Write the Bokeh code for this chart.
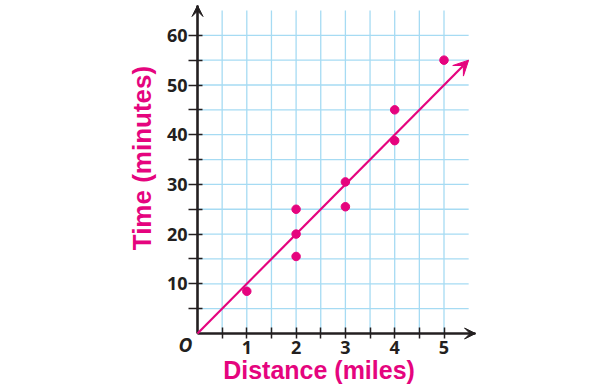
import math
from bokeh.plotting import figure
from bokeh.models import (Range1d, FixedTicker, Label, Arrow, VeeHead)
from bokeh.embed import file_html
from bokeh.resources import INLINE

# ---- data ----
dist = [1, 2, 2, 2, 3, 3, 4, 4, 5]
time_min = [8.5, 25, 20, 15.5, 30.5, 25.5, 45, 38.8, 55]
trend_x = [0, 5.5]
trend_y = [0, 55]

x_ticks = [1, 2, 3, 4, 5]
x_minor = [0.5, 1.5, 2.5, 3.5, 4.5]
y_ticks = [10, 20, 30, 40, 50, 60]
y_minor = [5, 15, 25, 35, 45, 55]
x_tick_labels = ["1", "2", "3", "4", "5"]
y_tick_labels = ["10", "20", "30", "40", "50", "60"]

x_label = "Distance (miles)"
y_label = "Time (minutes)"
origin_label = "O"

PINK = "#e5047e"
GRID = "#a6dbf3"
INK = "#231f20"

# ---- layout (view window, in data units) ----
W, H = 606, 392
X0_PX, Y0_PX = 197, 333          # where the origin sits
SX, SY = 49.3, 4.97              # pixels per unit
view_x = (-X0_PX / SX, (W - X0_PX) / SX)
view_y = (-(H - Y0_PX) / SY, Y0_PX / SY)

axis_x_end, axis_y_end = 5.64, 66.0
grid_x_end, grid_y_end = 5.5, 65

p = figure(width=W, height=H, output_backend="svg", toolbar_location=None,
           x_range=Range1d(*view_x), y_range=Range1d(*view_y),
           min_border=0)
p.title.visible = False
p.outline_line_color = None
p.xgrid.visible = False
p.ygrid.visible = False

# grid lines built from the tick arrays
vx = sorted(x_ticks + x_minor)
hy = sorted(y_ticks + y_minor)
p.segment(x0=vx, y0=[0] * len(vx), x1=vx, y1=[grid_y_end] * len(vx),
          line_color=GRID, line_width=1.3)
p.segment(x0=[0] * len(hy), y0=hy, x1=[grid_x_end] * len(hy), y1=hy,
          line_color=GRID, line_width=1.3)

# axes, pinned at the origin
for ax, ticks, minor, labels in ((p.xaxis[0], x_ticks, x_minor, x_tick_labels),
                                 (p.yaxis[0], y_ticks, y_minor, y_tick_labels)):
    ax.ticker = FixedTicker(ticks=ticks, minor_ticks=minor)
    ax.major_label_overrides = {t: l for t, l in zip(ticks, labels)}
    ax.fixed_location = 0
    ax.axis_line_color = INK
    ax.axis_line_width = 2.6
    ax.major_tick_line_color = INK
    ax.minor_tick_line_color = INK
    ax.major_tick_line_width = 1.5
    ax.minor_tick_line_width = 1.5
    ax.major_label_text_font = "Open Sans"
    ax.major_label_text_font_style = "bold"
    ax.major_label_text_font_size = "18px"
    ax.major_label_text_color = INK

p.xaxis.bounds = (0, axis_x_end)
p.yaxis.bounds = (0, axis_y_end)

p.xaxis.major_tick_in = 6
p.xaxis.major_tick_out = 5
p.xaxis.minor_tick_in = 6
p.xaxis.minor_tick_out = 5
p.xaxis.major_label_standoff = 2

p.yaxis.major_tick_in = 5
p.yaxis.major_tick_out = 9
p.yaxis.minor_tick_in = 5
p.yaxis.minor_tick_out = 9
p.yaxis.major_label_standoff = 1

# axis arrowheads
p.add_layout(Arrow(x_start=axis_x_end - 0.2, y_start=0, x_end=axis_x_end, y_end=0,
                   line_color=None,
                   end=VeeHead(size=11, fill_color=INK, line_color=INK)))
p.add_layout(Arrow(x_start=0, y_start=axis_y_end - 2, x_end=0, y_end=axis_y_end,
                   line_color=None,
                   end=VeeHead(size=11, fill_color=INK, line_color=INK)))

# trend line with arrow
p.add_layout(Arrow(x_start=trend_x[0], y_start=trend_y[0],
                   x_end=trend_x[1], y_end=trend_y[1],
                   line_color=PINK, line_width=2.2,
                   end=VeeHead(size=15, fill_color=PINK, line_color=PINK)))

# data points
p.scatter(dist, time_min, size=8.5, fill_color=PINK, line_color=PINK)

# axis titles and origin label
p.add_layout(Label(x=2.465, y=-7.3, text=x_label, text_align="center",
                   text_baseline="alphabetic", text_font="Liberation Sans",
                   text_font_style="bold", text_font_size="25px",
                   text_color=PINK))
p.add_layout(Label(x=-1.13, y=35.3, text=y_label, text_align="center",
                   text_baseline="alphabetic", angle=math.pi / 2,
                   text_font="Liberation Sans", text_font_style="bold",
                   text_font_size="26px", text_color=PINK))
p.add_layout(Label(x=-0.243, y=-2.41, text=origin_label, text_align="center",
                   text_baseline="middle", text_font="Open Sans",
                   text_font_style="bold italic", text_font_size="19px",
                   text_color=INK))

open("out.html", "w").write(file_html(p, INLINE))
